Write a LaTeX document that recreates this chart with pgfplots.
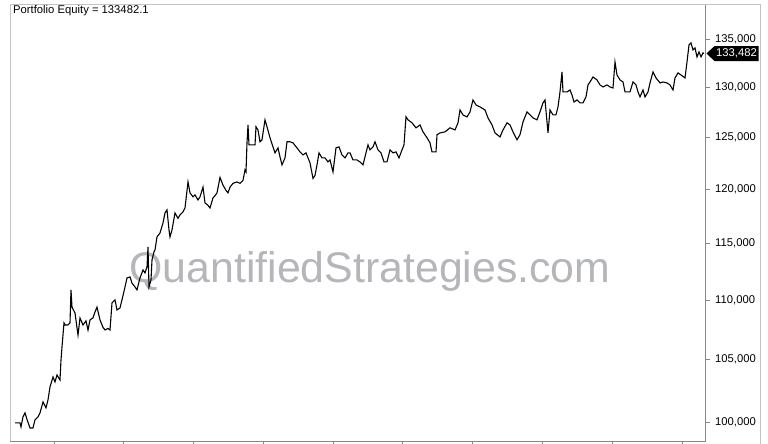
\documentclass[border=0pt]{standalone}
\usepackage{pgfplots}
\pgfplotsset{compat=1.18}
\usepackage{fontspec}
\setmainfont{Liberation Sans}
\definecolor{framegray}{RGB}{195,195,195}
\definecolor{axgray}{RGB}{135,135,135}
\definecolor{wm}{RGB}{180,182,186}
\begin{document}
\begin{tikzpicture}
\useasboundingbox (0,0) rectangle (768bp,444bp);
% equity values in thousands of dollars
\begin{axis}[
  at={(10bp,3bp)}, anchor=south west,
  scale only axis, width=695bp, height=437bp,
  xmin=10, xmax=705,
  ymode=log, ymin=98.522, ymax=138.762,
  axis line style={draw=none},
  clip=false,
  xtick={54,123,193,263,333,402,472,542,612,682},
  xticklabels={},
  xtick pos=left, ytick pos=right,
  tick align=outside,
  major tick length=5bp,
  every tick/.style={axgray, line width=0.8bp},
  minor ytick={}, minor xtick={},
  ytick={100,105,110,115,120,125,130,135},
  yticklabels={{100,000},{105,000},{110,000},{115,000},{120,000},{125,000},{130,000},{135,000}},
  yticklabel pos=right,
  y tick label style={anchor=west, inner sep=0pt, xshift=5bp, font=\fontsize{11.3}{13}\selectfont, text=black},
]
\node[anchor=base, text=wm, font=\fontsize{43}{43}\selectfont, inner sep=0pt] at (rel axis cs:0.518,0.3616) {QuantifiedStrategies.com};
\addplot[black, line width=1.1bp, sharp plot] coordinates {
(15,99.922) (20,99.922) (21,99.609) (23,100.400) (25,100.708) (27,100.200) (30,99.530) (33,99.530)
(35,100.157) (38,100.400) (40,100.708) (43,101.580) (46,101.103) (48,101.739) (50,102.781) (53,103.589)
(55,103.184) (57,103.750) (60,103.345) (61,104.979) (62,106.053) (64,108.068) (65,107.897) (68,107.897)
(70,108.068) (71,110.902) (72,109.420) (75,108.917) (78,107.046) (80,108.490) (83,107.897) (86,108.238)
(88,107.474) (90,108.324) (93,108.500) (95,109.000) (97,109.420) (100,108.324) (103,107.700) (105,107.474)
(108,107.600) (110,107.474) (112,109.775) (115,110.038) (117,109.171) (120,109.346) (123,110.400) (125,111.162)
(127,111.949) (130,112.036) (132,111.500) (135,111.162) (137,110.902) (140,111.949) (143,112.651) (145,112.384)
(147,112.914) (148,114.699) (149,111.162) (151,111.774) (152,113.537) (154,114.248) (155,114.430) (157,115.604)
(160,115.966) (163,116.879) (165,117.794) (167,118.076) (169,116.241) (170,115.604) (172,116.241) (175,117.794)
(178,117.300) (180,117.609) (183,117.900) (185,118.253) (188,120.694) (190,119.662) (193,119.300) (195,119.474)
(198,119.000) (200,119.291) (203,120.205) (205,118.722) (208,118.500) (210,118.253) (213,119.194) (215,119.400)
(217,119.662) (220,121.122) (223,120.396) (226,119.900) (228,119.662) (230,120.205) (233,120.558) (237,120.694)
(240,120.558) (243,120.840) (245,121.839) (246,121.648) (247,124.444) (248,126.209) (249,124.249) (252,124.249)
(255,124.249) (256,126.020) (258,125.714) (260,124.554) (262,124.751) (265,126.712) (267,126.020) (270,124.948)
(273,124.054) (275,123.472) (278,123.956) (280,123.086) (282,122.314) (285,122.990) (287,124.554) (290,124.554)
(293,124.444) (297,123.956) (300,123.569) (303,123.279) (306,123.472) (310,122.506) (313,121.026) (315,121.313)
(317,122.314) (319,123.472) (322,122.990) (325,122.990) (328,122.601) (330,122.793) (333,121.648) (336,123.956)
(339,124.054) (342,123.279) (345,122.990) (348,123.472) (350,123.472) (353,122.793) (357,122.793) (360,122.601)
(363,122.314) (365,123.086) (368,124.249) (370,123.763) (373,124.054) (375,124.554) (378,123.763) (381,123.472)
(384,122.601) (387,122.601) (390,123.763) (393,123.472) (396,123.569) (399,122.990) (402,123.763) (404,124.249)
(406,127.012) (408,126.712) (412,126.413) (416,125.921) (420,126.209) (423,125.522) (427,124.948) (430,124.444)
(432,123.569) (436,123.569) (437,125.241) (440,125.420) (445,125.522) (450,125.921) (455,125.714) (458,126.413)
(460,127.700) (463,127.203) (467,127.003) (470,127.502) (473,128.706) (476,128.203) (480,128.003) (485,127.700)
(488,126.903) (492,126.209) (495,125.420) (500,125.027) (503,125.714) (507,126.413) (510,126.209) (513,125.522)
(517,124.751) (520,125.241) (523,126.506) (527,127.502) (530,127.203) (533,126.903) (537,126.712) (540,127.502)
(543,128.403) (545,128.706) (548,125.420) (550,127.700) (553,127.203) (556,127.203) (558,128.003) (560,129.515)
(562,131.563) (563,129.515) (567,129.515) (570,129.718) (572,129.210) (574,128.503) (577,128.706) (580,128.403)
(583,128.403) (586,129.008) (588,130.227) (590,130.533) (593,131.046) (597,130.738) (600,130.227) (603,130.022)
(607,130.227) (610,130.022) (613,129.921) (615,132.598) (617,131.251) (620,130.738) (623,130.533) (625,129.515)
(630,129.515) (633,130.533) (636,130.227) (638,129.515) (640,129.008) (643,129.718) (645,129.008) (648,129.515)
(650,130.431) (653,131.563) (656,130.943) (660,130.431) (663,130.533) (667,130.431) (670,130.227) (673,129.718)
(675,130.943) (678,131.458) (681,131.251) (685,130.943) (687,132.598) (689,134.375) (691,134.586) (693,133.851)
(695,134.060) (697,133.119) (699,133.641) (701,133.119) (703,133.537) (704,133.482)
};
\draw[framegray, line width=0.8bp] (rel axis cs:0,0) -- (rel axis cs:0,1) -- (rel axis cs:1,1);
\draw[axgray, line width=0.8bp] (rel axis cs:0,0) -- (rel axis cs:1,0) -- (rel axis cs:1,1);
\node[anchor=base west, inner sep=0pt, font=\fontsize{11.3}{13}\selectfont] at (rel axis cs:0.0043,0.977) {Portfolio Equity = 133482.1};
\coordinate (tag) at (axis cs:705,133.482);
\end{axis}
\draw[framegray, line width=0.8bp] (705bp,440bp) -- (760bp,440bp) -- (760bp,0bp);
\fill[black] (tag) ++(1.5bp,0) -- ++(8bp,7.5bp) -- ++(44bp,0) -- ++(0,-15bp) -- ++(-44bp,0) -- cycle;
\node[anchor=west, inner sep=0pt, xshift=11bp, text=white, font=\fontsize{11.3}{13}\selectfont] at (tag) {133,482};
\end{tikzpicture}
\end{document}
